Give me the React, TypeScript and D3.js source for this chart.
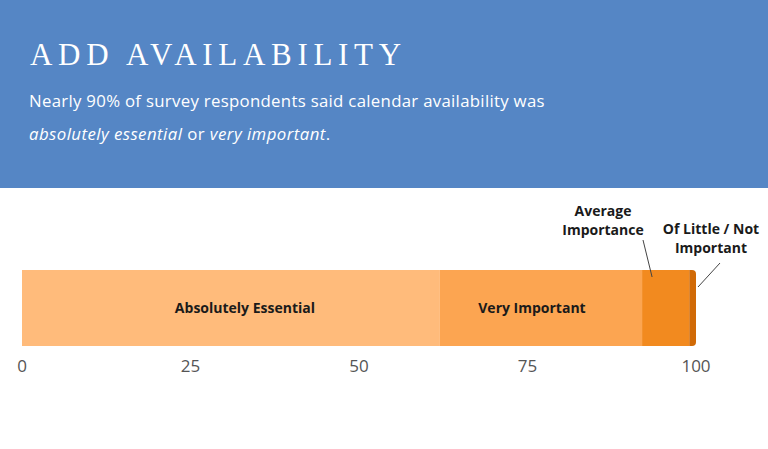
import React from "react";
import * as d3 from "d3";

const categories = ["Absolutely Essential", "Very Important", "Average Importance", "Of Little / Not Important"];
const values = [62, 30, 7, 1];
const colors = ["#FFBB7B", "#FCA551", "#F28A1F", "#D16A06"];
const tickValues = [0, 25, 50, 75, 100];
const title = "ADD AVAILABILITY";
const subtitleLine1 = "Nearly 90% of survey respondents said calendar availability was";

const W = 768;
const H = 449;

export default function App() {
  const x = d3.scaleLinear().domain([0, 100]).range([22, 696]);
  const barTop = 270;
  const barH = 76;
  let acc = 0;
  const segs = values.map((v, i) => {
    const s = { start: acc, end: acc + v, name: categories[i], color: colors[i] };
    acc += v;
    return s;
  });
  const labelDx = [14, -9];
  const font = "'Open Sans', sans-serif";
  const r = 4;
  return (
    <svg width={W} height={H} style={{ position: "absolute", left: 0, top: 0, background: "#fff" }}>
      <rect x={0} y={0} width={W} height={188} fill="#5586C5" />
      <text x={30} y={65} fill="#fff" fontFamily="'Liberation Serif', serif" fontSize={31} letterSpacing={5.7}>
        {title}
      </text>
      <text x={29} y={107} fill="#fff" fontFamily={font} fontSize={16.8} letterSpacing={0.3}>
        {subtitleLine1}
      </text>
      <text x={29} y={140} fill="#fff" fontFamily={font} fontSize={16.8} letterSpacing={0.45}>
        <tspan fontStyle="italic">absolutely essential</tspan>
        <tspan> or </tspan>
        <tspan fontStyle="italic">very important</tspan>
        <tspan>.</tspan>
      </text>
      {segs.map((s, i) => {
        const x0 = x(s.start);
        const x1 = x(s.end);
        if (i === segs.length - 1) {
          const d = `M${x0},${barTop} H${x1 - r} Q${x1},${barTop} ${x1},${barTop + r} V${barTop + barH - r} Q${x1},${barTop + barH} ${x1 - r},${barTop + barH} H${x0} Z`;
          return <path key={i} d={d} fill={s.color} />;
        }
        return <rect key={i} x={x0} y={barTop} width={x1 - x0} height={barH} fill={s.color} />;
      })}
      {segs.slice(0, 2).map((s, i) => (
        <text
          key={i}
          x={x((s.start + s.end) / 2) + labelDx[i]}
          y={barTop + barH / 2 + 5}
          textAnchor="middle"
          fontFamily={font}
          fontWeight={700}
          fontSize={14}
          fill="#1a1a1a"
        >
          {s.name}
        </text>
      ))}
      <text x={603} y={216} textAnchor="middle" fontFamily={font} fontWeight={700} fontSize={14} fill="#1a1a1a">Average</text>
      <text x={603} y={235} textAnchor="middle" fontFamily={font} fontWeight={700} fontSize={14} fill="#1a1a1a">Importance</text>
      <line x1={643} y1={240} x2={x(segs[2].start) + 10} y2={277} stroke="#444" strokeWidth={1} />
      <text x={711} y={234} textAnchor="middle" fontFamily={font} fontWeight={700} fontSize={14} fill="#1a1a1a">Of Little / Not</text>
      <text x={711} y={253} textAnchor="middle" fontFamily={font} fontWeight={700} fontSize={14} fill="#1a1a1a">Important</text>
      <line x1={720} y1={263} x2={x(100) + 2} y2={287} stroke="#444" strokeWidth={1} />
      {tickValues.map((t) => (
        <text key={t} x={x(t)} y={372} textAnchor="middle" fontFamily={font} fontSize={17} fill="#555">
          {t}
        </text>
      ))}
    </svg>
  );
}
